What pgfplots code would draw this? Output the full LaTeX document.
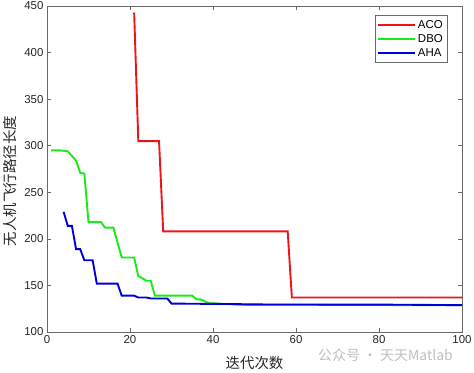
\documentclass[border=0pt]{standalone}
\usepackage{fontspec}
\setmainfont{Liberation Sans}
\newfontfamily\cjk{Noto Sans CJK SC}
\usepackage{pgfplots}
\pgfplotsset{compat=1.18}
\definecolor{axgray}{RGB}{105,105,105}
\definecolor{txtgray}{RGB}{38,38,38}
\definecolor{acored}{RGB}{235,20,25}
\definecolor{dbogreen}{RGB}{25,235,25}
\definecolor{ahablue}{RGB}{0,0,215}
\begin{document}
\begin{tikzpicture}
\begin{axis}[name=ax, width=415bp, height=326bp, scale only axis,
  xmin=0, xmax=100, ymin=100, ymax=450,
  xtick={0,20,...,100}, ytick={100,150,...,450},
  tick align=inside, tick pos=both, major tick length=4bp,
  axis line style={axgray, line width=0.5pt},
  tick style={axgray, line width=0.5pt},
  /pgf/number format/assume math mode=true,
  ticklabel style={font=\fontsize{11.5}{12}\selectfont, text=txtgray},
  xlabel={\cjk 迭代次数}, ylabel={\cjk 无人机飞行路径长度},
  label style={font=\fontsize{14.5}{15}\selectfont, text=txtgray},
  xlabel style={at={(axis description cs:0.5,-0.095)}, anchor=center},
  ylabel style={at={(axis description cs:-0.09,0.463)}, anchor=center},
  legend style={at={(1,1)}, anchor=north east, xshift=-15bp, yshift=-9bp,
    draw=axgray, font=\fontsize{11.5}{13}\selectfont, inner xsep=2pt, inner ysep=3pt,
    nodes={inner ysep=2.2pt}},
  legend cell align=left,
  legend image code/.code={\draw[#1] (0bp,0bp) -- (37bp,0bp);},
]
\addplot[acored, line width=1.9pt] coordinates {
(21,443) (22,305) (27,305) (28,208) (58,208) (59,137) (100,137)};
\addlegendentry{ACO}
\addplot[dbogreen, line width=1.9pt] coordinates {
(1,295) (3,295) (5,294) (6,289) (7,284) (8,271) (9,270) (10,218) (13,218) (14,212) (16,212) (18,180) (21,180) (22,160) (24,155) (25,155) (26,139) (35,139) (36,135) (37,135) (39,131) (47,129.2) (100,128.8)};
\addlegendentry{DBO}
\addplot[ahablue, line width=1.9pt] coordinates {
(4,229) (5,214) (6,214) (7,189) (8,189) (9,177) (11,177) (12,152) (17,152) (18,139) (21,139) (22,137) (24,137) (25,136) (29,136) (30,130.5) (45,130) (50,129.6) (85,129.3) (100,128.8)};
\addlegendentry{AHA}
\end{axis}
\node[text=gray!50, font=\cjk\fontsize{14}{14}\selectfont, anchor=west, inner sep=0pt]
  at ([xshift=271bp, yshift=-23bp]ax.south west) {公众号 · 天天Matlab};
\pgfresetboundingbox
\path[use as bounding box] ([xshift=-47bp, yshift=-41bp]ax.south west) rectangle ([xshift=12bp, yshift=6bp]ax.north east);
\end{tikzpicture}
\end{document}
